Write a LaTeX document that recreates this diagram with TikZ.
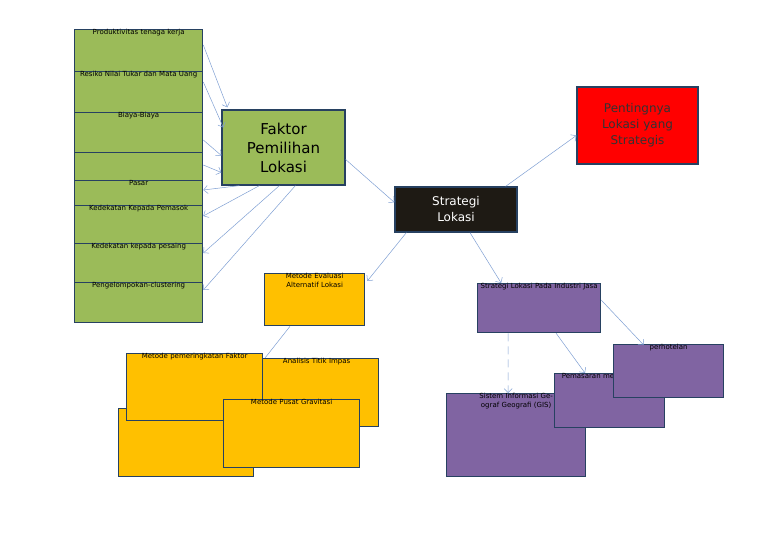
\documentclass[tikz,border=0pt]{standalone}
\usepackage{fontspec}
\setmainfont{DejaVu Sans}
\usetikzlibrary{arrows.meta,calc}
\definecolor{grn}{HTML}{9BBB59}
\definecolor{edge}{HTML}{385D8A}
\definecolor{ylw}{HTML}{FFC000}
\definecolor{prp}{HTML}{8064A2}
\definecolor{dk}{HTML}{1E1A14}
\definecolor{ln}{HTML}{7F9FD3}
\tikzset{con/.style={draw=ln,line width=0.5pt,-{Straight Barb[length=4pt,width=8pt]}},
 boxs/.style={draw=edge!70!black,line width=1.3pt,inner sep=0pt}}
\newcommand{\bx}[8]{%
 \node[boxs,fill=#6,anchor=north west,minimum width=#4pt-#2pt,minimum height=#5pt-#3pt] (#1) at (#2,#3) {};
 \node[anchor=north,align=center,text width=#4pt-#2pt-4pt,font=#8,inner sep=1pt] (#1t) at ($(#1.north)+(0,-1)$) {#7};}
\begin{document}
\begin{tikzpicture}[x=1pt,y=-1pt]
\useasboundingbox (0,0) rectangle (768,543);
\bx{g1}{74}{29}{202}{71}{grn}{Produktivitas tenaga kerja}{\fontsize{7}{9}\selectfont}
\bx{g2}{74}{71}{202}{112}{grn}{Resiko Nilai Tukar dan Mata Uang}{\fontsize{7}{9}\selectfont}
\bx{g3}{74}{112}{202}{152}{grn}{Biaya-Biaya}{\fontsize{7}{9}\selectfont}
\bx{g4}{74}{152}{202}{180}{grn}{}{\fontsize{7}{9}\selectfont}
\bx{g5}{74}{180}{202}{205}{grn}{Pasar}{\fontsize{7}{9}\selectfont}
\bx{g6}{74}{205}{202}{243}{grn}{Kedekatan Kepada Pemasok}{\fontsize{7}{9}\selectfont}
\bx{g7}{74}{243}{202}{282}{grn}{Kedekatan kepada pesaing}{\fontsize{7}{9}\selectfont}
\bx{g8}{74}{282}{202}{322}{grn}{Pengelompokan-clustering}{\fontsize{7}{9}\selectfont}
\node[boxs,fill=grn,minimum width=123pt,minimum height=75pt,align=center,font=\fontsize{15}{19}\selectfont] (fak) at (283.5,147.5) {Faktor\\Pemilihan\\Lokasi};
\node[boxs,fill=dk,text=white,minimum width=122pt,minimum height=45pt,align=center,font=\fontsize{12}{16}\selectfont] (str) at (456,209.5) {Strategi\\Lokasi};
\node[boxs,fill=red,minimum width=121pt,minimum height=77pt,align=center,font=\fontsize{12}{16}\selectfont,text=black!80] (pen) at (637.5,125.5) {Pentingnya\\Lokasi yang\\Strategis};
\bx{me}{264}{273}{364}{325}{ylw}{Metode Evaluasi Alternatif Lokasi}{\fontsize{7}{9}\selectfont}
\bx{sj}{477}{283}{600}{332}{prp}{Strategi Lokasi Pada Industri Jasa}{\fontsize{7}{9}\selectfont}
\draw[draw=ln,line width=0.5pt] (me.south west)++(26,0) coordinate (mes) -- (265,358);
\bx{y0}{118}{408}{253}{476}{ylw}{}{\fontsize{7}{9}\selectfont}
\bx{ya}{246}{358}{378}{426}{ylw}{\hspace*{8pt}Analisis Titik Impas}{\fontsize{7}{9}\selectfont}
\bx{yp}{126}{353}{262}{420}{ylw}{Metode pemeringkatan Faktor}{\fontsize{7}{9}\selectfont}
\bx{yg}{223}{399}{359}{467}{ylw}{Metode Pusat Gravitasi}{\fontsize{7}{9}\selectfont}
\bx{ps}{446}{393}{585}{476}{prp}{Sistem Informasi Geograf Geografi (GIS)}{\fontsize{7}{9}\selectfont}
\bx{pm}{554}{373}{664}{427}{prp}{Pemasaran melalui telepon}{\fontsize{7}{9}\selectfont}
\bx{ph}{613}{344}{723}{397}{prp}{perhotelan}{\fontsize{7}{9}\selectfont}
% connectors
\draw[con] (g1.east|-0,45) -- ($(fak.north west)+(6,-2)$);
\draw[con] (g2.east|-0,82) -- ($(fak.west)+(2,-20)$);
\draw[con] (g3.east|-0,140) -- ($(fak.west)+(0,8)$);
\draw[con] (g4.east|-0,165) -- ($(fak.west)+(0,25)$);
\draw[con] ($(fak.south west)+(18,0)$) -- (g5.east|-0,190);
\draw[con] ($(fak.south west)+(38,0)$) -- (g6.east|-0,216);
\draw[con] ($(fak.south west)+(58,0)$) -- (g7.east|-0,253);
\draw[con] ($(fak.south west)+(74,0)$) -- (g8.east|-0,290);
\draw[con] (fak.east) ++(0,12) -- ($(str.north west)+(0,16)$);
\draw[con] ($(str.north east)+(-12,0)$) -- ($(pen.west)+(0,10)$);
\draw[con] ($(str.south west)+(12,0)$) -- ($(me.north east)+(2,8)$);
\draw[con] ($(str.south)+(14,0)$) -- ($(sj.north)+(-38,0)$);
\draw[con,dashed,dash pattern=on 8pt off 5pt] ($(sj.south west)+(31,0)$) -- ($(ps.north)+(-8,0)$);
\draw[con] ($(sj.south)+(17,0)$) -- ($(pm.north west)+(31,0)$);
\draw[con] ($(sj.east)+(0,-8)$) -- ($(ph.north)+(-25,1)$);
\end{tikzpicture}
\end{document}
